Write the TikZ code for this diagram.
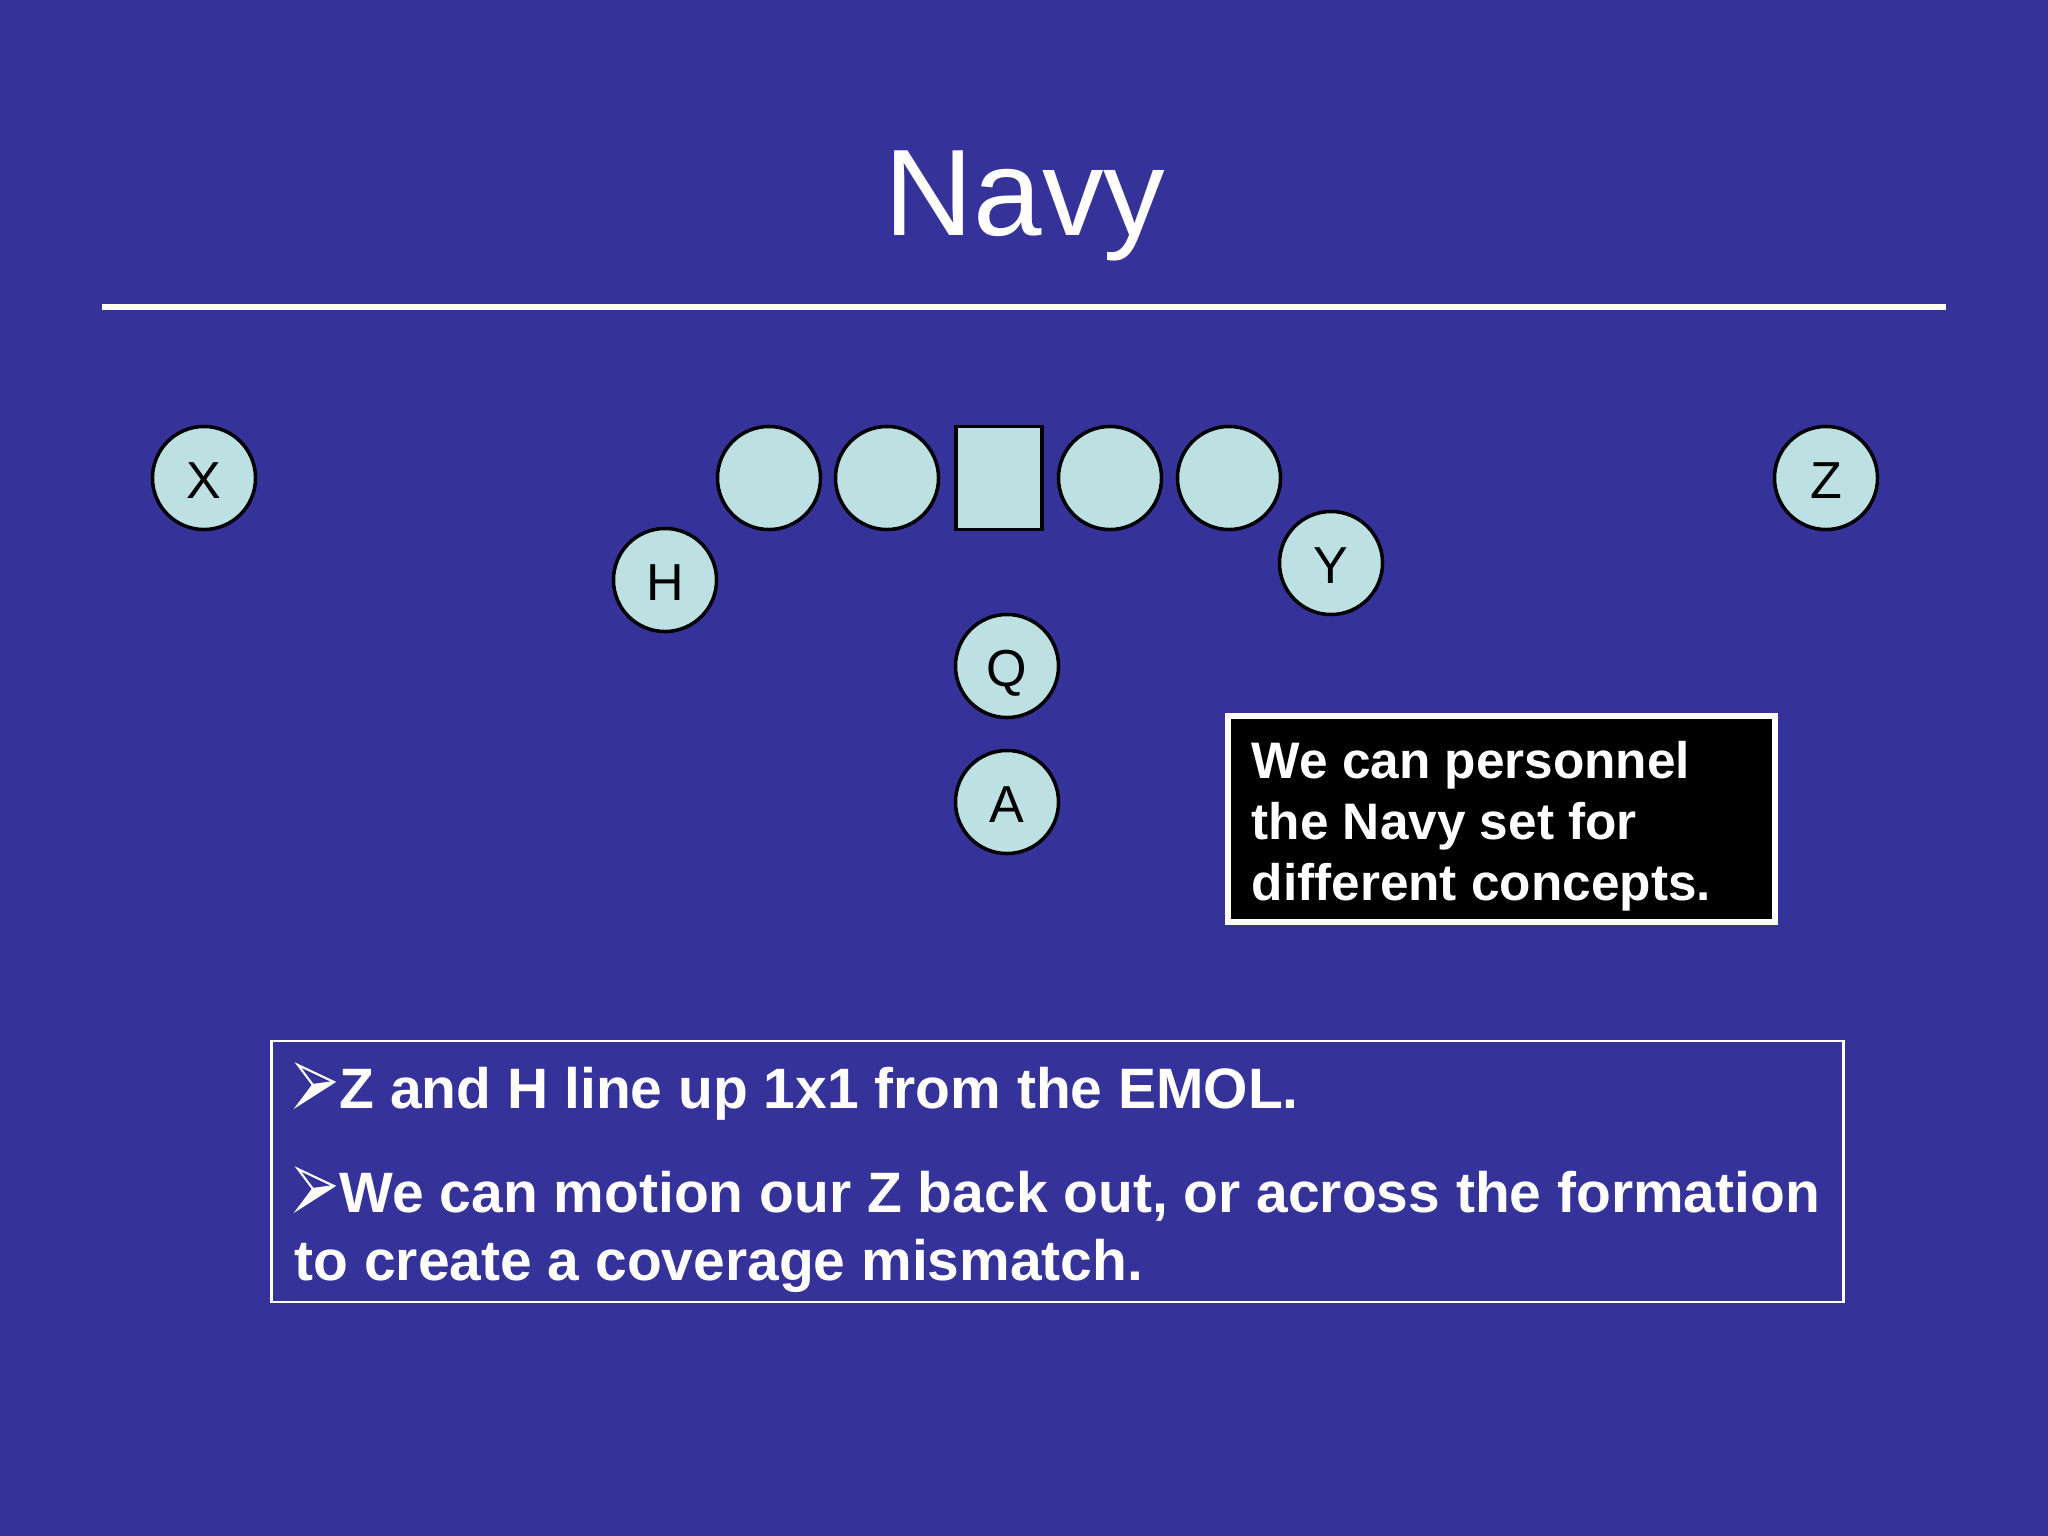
\documentclass[tikz,border=0pt]{standalone}
\usepackage{fontspec}
\setmainfont{Liberation Sans}
\definecolor{bg}{RGB}{53,51,153}
\definecolor{pl}{RGB}{189,224,227}
\begin{document}
\begin{tikzpicture}[x=0.01cm,y=-0.01cm,
  player/.style={circle,draw=black,line width=1pt,fill=pl,minimum size=1.03cm,inner sep=0pt,text height=11.6pt,text depth=0pt,font=\fontsize{14.8}{16}\selectfont},
  center/.style={rectangle,draw=black,line width=1pt,fill=pl,minimum width=0.86cm,minimum height=1.03cm,inner sep=0pt},
  boxtext/.style={anchor=base west,text=white,inner sep=0pt,font=\fontsize{14.6}{17}\selectfont\bfseries},
  notetext/.style={anchor=base west,text=white,inner sep=0pt,font=\fontsize{16.2}{18}\selectfont\bfseries},
  bulletarrow/.style={white,line width=0.6pt,line join=miter}
]
\fill[bg] (0,0) rectangle (2048,1536);
\useasboundingbox (0,0) rectangle (2048,1536);

% title
\node[anchor=base,text=white,inner sep=0pt,font=\fontsize{35}{40}\selectfont] (title) at (1025,235) {Navy};
\draw[white,line width=1.6pt] (102,307) -- (1946,307);

% players
\node[player] (X) at (204,478) {X};
\node[player] (LT) at (769,478) {};
\node[player] (LG) at (887,478) {};
\node[center] (C) at (999,478) {};
\node[player] (RG) at (1110,478) {};
\node[player] (RT) at (1229,478) {};
\node[player] (Z) at (1826,478) {Z};
\node[player] (H) at (665,580) {H};
\node[player] (Y) at (1331,563) {Y};
\node[player] (Q) at (1007,666) {Q};
\node[player] (A) at (1007,802) {A};

% black box
\node[draw=white,line width=1.7pt,fill=black,minimum width=5.47cm,minimum height=2.06cm,inner sep=0pt] (note) at (1501.5,819) {};
\node[boxtext] (n1) at (1251,778) {We can personnel};
\node[boxtext] (n2) at (1251,839) {the Navy set for};
\node[boxtext] (n3) at (1251,900) {different concepts.};

% bottom box
\node[draw=white,line width=0.6pt,minimum width=15.71cm,minimum height=2.61cm,inner sep=0pt] (notes) at (1057.5,1171.5) {};
\node[notetext] (b1) at (339,1108) {Z and H line up 1x1 from the EMOL.};
\node[notetext] (b2) at (339,1212) {We can motion our Z back out, or across the formation};
\node[notetext] (b3) at (294,1280) {to create a coverage mismatch.};

% bullet arrows
\foreach \yy in {1082,1186}{
  \fill[white] (313,\yy+3) -- (334,\yy) -- (298,\yy+23) -- cycle;
  \draw[bulletarrow] (298,\yy-17) -- (334,\yy) -- (298,\yy+23) -- (313,\yy+3) -- cycle;
  \draw[bulletarrow] (313,\yy+3) -- (334,\yy);
}
\end{tikzpicture}
\end{document}
